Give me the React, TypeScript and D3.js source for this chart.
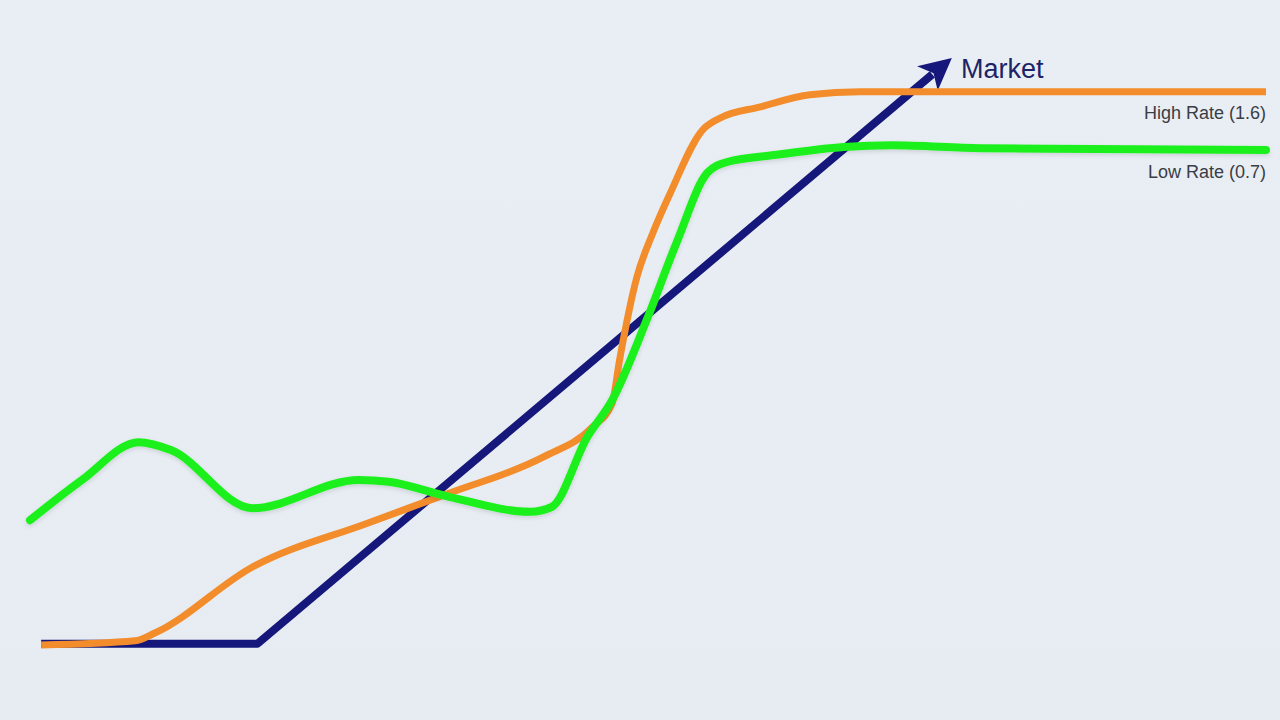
import * as d3 from "d3";
import { useEffect, useRef } from "react";

type Pt = [number, number];

// x: time (0–100), y: index level (0–100)
const marketSeries: Pt[] = [
  [0.9, 2.7],
  [18.4, 2.7],
  [73.0, 97.6],
];

const highRateSeries: Pt[] = [
  [0.9, 2.5], [8.5, 3.2], [10.1, 4.5], [18.0, 15.5], [27.3, 22.8],
  [33.9, 27.8], [41.5, 33.8], [45.5, 38.8], [47.1, 42.8], [47.7, 50.0],
  [49.1, 63.8], [50.4, 71.2], [51.8, 77.8], [54.4, 88.3], [55.8, 90.3],
  [59.1, 92.2], [63.1, 94.2], [67.2, 94.7], [76.9, 94.7], [100, 94.7],
];

const lowRateSeries: Pt[] = [
  [0, 23.3], [4.2, 30.0], [8.8, 36.3], [11.4, 35.0], [18.0, 25.3],
  [26.6, 30.0], [29.0, 29.7], [33.9, 27.2], [40.5, 24.7], [42.2, 25.5],
  [45.1, 37.2], [47.1, 43.3], [49.9, 56.7], [52.3, 69.5], [54.8, 81.2],
  [56.4, 83.0], [60.4, 84.2], [65.8, 85.5], [69.8, 85.8], [76.9, 85.3],
  [100, 85.0],
];

const labels = {
  market: "Market",
  high: "High Rate (1.6)",
  low: "Low Rate (0.7)",
};

export default function App() {
  const svgRef = useRef<SVGSVGElement | null>(null);

  useEffect(() => {
    if (!svgRef.current) return;
    const width = 1280;
    const height = 720;

    const x = d3.scaleLinear().domain([0, 100]).range([30, 1266]);
    const y = d3.scaleLinear().domain([0, 100]).range([660, 60]);

    const svg = d3.select(svgRef.current);
    svg.selectAll("*").remove();

    const defs = svg.append("defs");
    const grad = defs
      .append("linearGradient")
      .attr("id", "bg")
      .attr("x1", 0)
      .attr("y1", 0)
      .attr("x2", 0)
      .attr("y2", 1);
    grad.append("stop").attr("offset", 0).attr("stop-color", "#e9eef4");
    grad.append("stop").attr("offset", 1).attr("stop-color", "#e6ecf2");

    defs
      .append("marker")
      .attr("id", "arrow")
      .attr("viewBox", "0 0 10 10")
      .attr("refX", 2)
      .attr("refY", 5)
      .attr("markerWidth", 4)
      .attr("markerHeight", 4)
      .attr("markerUnits", "strokeWidth")
      .attr("orient", "auto")
      .append("path")
      .attr("d", "M0,0 L10,5 L0,10 L2.5,5 Z")
      .attr("fill", "#15187a");

    const shadow = defs
      .append("filter")
      .attr("id", "shadow")
      .attr("x", "-5%")
      .attr("y", "-5%")
      .attr("width", "110%")
      .attr("height", "110%");
    shadow
      .append("feDropShadow")
      .attr("dx", 0)
      .attr("dy", 2)
      .attr("stdDeviation", 2)
      .attr("flood-color", "#000")
      .attr("flood-opacity", 0.12);

    svg.append("rect").attr("width", width).attr("height", height).attr("fill", "url(#bg)");

    const straight = d3
      .line<Pt>()
      .x((d) => x(d[0]))
      .y((d) => y(d[1]));
    const smooth = d3
      .line<Pt>()
      .x((d) => x(d[0]))
      .y((d) => y(d[1]))
      .curve(d3.curveMonotoneX);

    svg
      .append("path")
      .attr("d", straight(marketSeries))
      .attr("fill", "none")
      .attr("stroke", "#15187a")
      .attr("stroke-width", 8)
      .attr("stroke-linejoin", "round")
      .attr("marker-end", "url(#arrow)");

    svg
      .append("path")
      .attr("d", smooth(highRateSeries))
      .attr("fill", "none")
      .attr("stroke", "#f38d2c")
      .attr("stroke-width", 7)
      .attr("stroke-linecap", "butt");

    svg
      .append("path")
      .attr("d", smooth(lowRateSeries))
      .attr("fill", "none")
      .attr("stroke", "#1ef01e")
      .attr("stroke-width", 8)
      .attr("stroke-linecap", "round")
      .attr("filter", "url(#shadow)");

    svg
      .append("text")
      .attr("x", 961)
      .attr("y", 78)
      .attr("font-family", "Liberation Sans, Arial, sans-serif")
      .attr("font-size", 27)
      .attr("fill", "#1c2366")
      .text(labels.market);

    svg
      .append("text")
      .attr("x", 1266)
      .attr("y", 119)
      .attr("text-anchor", "end")
      .attr("font-family", "Liberation Sans, Arial, sans-serif")
      .attr("font-size", 18)
      .attr("fill", "#3a3d44")
      .text(labels.high);

    svg
      .append("text")
      .attr("x", 1266)
      .attr("y", 178)
      .attr("text-anchor", "end")
      .attr("font-family", "Liberation Sans, Arial, sans-serif")
      .attr("font-size", 18)
      .attr("fill", "#3a3d44")
      .text(labels.low);
  }, []);

  return (
    <div style={{ position: "fixed", left: 0, top: 0, width: 1280, height: 720 }}>
      <svg ref={svgRef} width={1280} height={720} style={{ display: "block" }} />
    </div>
  );
}
